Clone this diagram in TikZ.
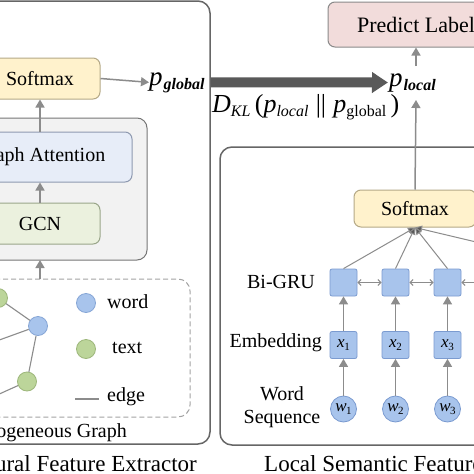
\documentclass[tikz,border=0pt]{standalone}
\usepackage{fontspec}
\setmainfont{Liberation Serif}
\usetikzlibrary{arrows.meta}
\definecolor{smfill}{HTML}{FFF2CC}
\definecolor{smdraw}{HTML}{B5A987}
\definecolor{gafill}{HTML}{E7EDF8}
\definecolor{gadraw}{HTML}{8F9AB0}
\definecolor{gcnfill}{HTML}{EBF1DE}
\definecolor{gcndraw}{HTML}{9AA68A}
\definecolor{grayfill}{HTML}{F2F2F2}
\definecolor{graydraw}{HTML}{767676}
\definecolor{plfill}{HTML}{F2DCDB}
\definecolor{pldraw}{HTML}{8A8A8A}
\definecolor{bluefill}{HTML}{A8C4EC}
\definecolor{bluedraw}{HTML}{86A6D6}
\definecolor{greenfill}{HTML}{BCD59A}
\definecolor{greendraw}{HTML}{9DB77B}
\definecolor{sqdraw}{HTML}{7B9BD0}
\definecolor{arrgray}{HTML}{8C8C8C}
\definecolor{thickgray}{HTML}{595959}
\definecolor{framegray}{HTML}{666666}
\newcommand{\myfs}[1]{\fontsize{#1}{#1}\selectfont}
\begin{document}
\begin{tikzpicture}[x=1pt,y=-1pt,
  box/.style={draw, rounded corners=7pt, line width=1pt, inner sep=0pt, font=\myfs{20}},
  frame/.style={draw=framegray, line width=1.5pt, rounded corners=12pt},
  arr/.style={draw=arrgray, line width=1.5pt, -{Triangle[length=8pt,width=9pt]}},
  gline/.style={draw=arrgray, line width=1.1pt},
  bnode/.style={circle, draw=bluedraw, fill=bluefill, line width=0.8pt, minimum size=19pt, inner sep=0pt},
  gnode/.style={circle, draw=greendraw, fill=greenfill, line width=0.8pt, minimum size=19pt, inner sep=0pt},
  sq/.style={draw=sqdraw, fill=bluefill, rounded corners=2pt, line width=0.8pt, minimum size=27pt, inner sep=0pt, font=\myfs{17}\itshape},
  wc/.style={circle, draw=sqdraw, fill=bluefill, line width=0.8pt, minimum size=26pt, inner sep=0pt, font=\myfs{17}\itshape},
  lbl/.style={font=\myfs{20}, inner sep=0pt},
  biglbl/.style={font=\myfs{23}, inner sep=0pt},
  biarr/.style={draw=arrgray, line width=1pt, {Straight Barb[length=3pt,width=6pt]}-{Straight Barb[length=3pt,width=6pt]}},
  convarr/.style={draw=arrgray, line width=1pt, -{Triangle[length=7pt,width=7pt,fill=thickgray]}}
]
\useasboundingbox (0,0) rectangle (474,474);
\fill[white] (0,0) rectangle (474,474);

% outer frames
\draw[frame] (-60,1) rectangle (210,444);
\draw[frame] (220,147) rectangle (520,445);

% ---------- left part ----------
\draw[draw=graydraw, fill=grayfill, line width=1pt, rounded corners=10pt] (-67,118) rectangle (147,260);
\node[box, draw=smdraw, fill=smfill, minimum width=120pt, minimum height=41pt] (smL) at (40,78.5) {Softmax};
\node[box, draw=gadraw, fill=gafill, minimum width=184pt, minimum height=50pt] (ga) at (40,157) {Graph Attention};
\node[box, draw=gcndraw, fill=gcnfill, minimum width=120pt, minimum height=41pt] (gcn) at (40,223.5) {GCN};
\draw[draw=arrgray!80, line width=1pt, dash pattern=on 5pt off 3pt, rounded corners=12pt] (-100,279) rectangle (190,417);
\coordinate (dtop) at (40,279);
\coordinate (gbot) at (40,260);
\draw[arr] (dtop) -- (gbot);
\draw[arr] (gcn.north) -- (ga.south);
\draw[arr] (ga.north) -- (smL.south);

% graph
\coordinate (o1) at (-45,356);
\coordinate (o2) at (-45,414);
\node[gnode] (g1) at (-2,298) {};
\node[bnode] (b1) at (38,326) {};
\node[gnode] (g2) at (27,381.5) {};
\draw[gline] (g1) -- (b1);
\draw[gline] (o1) -- (b1);
\draw[gline] (b1) -- (g2);
\draw[gline] (o2) -- (g2);

% legend
\node[bnode] (lw) at (86,303) {};
\node[lbl, anchor=west] (tw) at (107,302) {word};
\node[gnode] (lt) at (86,349) {};
\node[lbl, anchor=west] (tt) at (112,348) {text};
\coordinate (le1) at (75,399);
\coordinate (le2) at (99,399);
\draw[gline] (le1) -- (le2);
\node[lbl, anchor=west] (te) at (107,397) {edge};
\node[lbl, anchor=base east] (hg) at (127,437) {Heterogeneous Graph};

\node[biglbl, anchor=base east] (sfe) at (197,471) {Structural Feature Extractor};
\node[biglbl, anchor=base west] (lsfe) at (264,471) {Local Semantic Feature Extractor};

% p global
\node[inner sep=0pt, anchor=base west] (pg) at (149,85) {\myfs{27}\textit{p}\kern1pt\raisebox{-4pt}{\myfs{16}\textbf{\textit{global}}}};
\draw[arr] (smL.east) -- (pg.west);

% p local
\node[inner sep=0pt, anchor=base west] (pl) at (389,86) {\myfs{27}\textit{p}\kern1pt\raisebox{-4pt}{\myfs{16}\textbf{\textit{local}}}};
\draw[draw=thickgray, line width=10pt, -{Triangle[length=16pt,width=20pt]}] ([xshift=6pt]pg.east) -- ([xshift=-1pt]pl.west);

% DKL
\node[inner sep=0pt, anchor=base west] (dkl) at (212,112) {\myfs{26}\textit{D}\raisebox{-4pt}{\myfs{16}\textit{KL}}\,(\textit{p}\raisebox{-4pt}{\myfs{16}\textit{local}}\;||\;\textit{p}\raisebox{-4pt}{\myfs{16}global}\,)};

% predict label
\node[box, draw=pldraw, fill=plfill, minimum width=176pt, minimum height=45pt, font=\myfs{22}] (pred) at (416,24.5) {Predict Label};
\coordinate (plt) at (416,66);
\coordinate (plb) at (416,100);
\draw[arr] (plt) -- (pred.south);

% right softmax
\node[box, draw=smdraw, fill=smfill, minimum width=122pt, minimum height=37pt] (smR) at (415,208.5) {Softmax};
\draw[arr] (smR.north) -- (plb);

% Bi-GRU etc.
\node[lbl] (lbg) at (281,282) {Bi-GRU};
\node[lbl, anchor=east] (lemb) at (322,343) {Embedding};
\node[lbl] (lws1) at (282,394) {Word};
\node[lbl] (lws2) at (282,419) {Sequence};

\foreach \i/\x in {1/343.5,2/395.5,3/447.5}{
  \node[sq] (h\i) at (\x,282.5) {};
  \node[sq] (e\i) at (\x,345) {\textit{x}\kern-0.5pt\raisebox{-3pt}{\myfs{11}\upshape \i}};
  \node[wc] (w\i) at (\x,409) {\textit{w}\kern-0.5pt\raisebox{-3pt}{\myfs{11}\upshape \i}};
  \draw[arr] (w\i) -- (e\i);
  \draw[arr] (e\i) -- (h\i);
}
\coordinate (h4) at (499.5,282.5);
\coordinate (t4) at (590,269);
\draw[biarr] (h1) -- (h2);
\draw[biarr] (h2) -- (h3);
\draw[biarr] (h3.east) -- ([xshift=-13.5pt]h4);
\foreach \i in {1,2,3}{
  \draw[convarr] (h\i.north) -- (smR.south);
}
\draw[convarr] (t4) -- (smR.south);
\end{tikzpicture}
\end{document}
